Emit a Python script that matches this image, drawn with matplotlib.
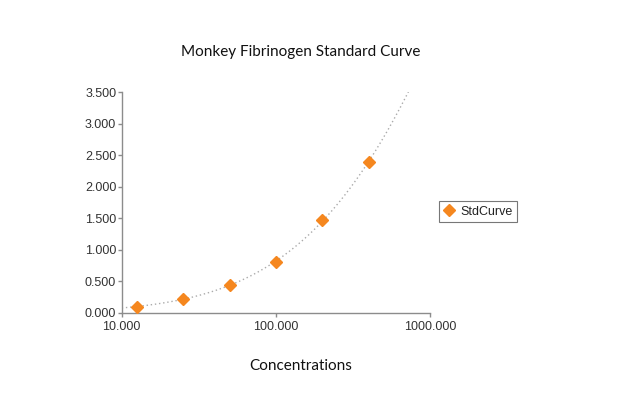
import numpy as np
import matplotlib.pyplot as plt
from matplotlib.ticker import FixedLocator, FuncFormatter, NullLocator

# Standard curve points
conc = [12.5, 25, 50, 100, 200, 400]
od = [0.10, 0.22, 0.44, 0.80, 1.48, 2.40]
y_ticks = [0.0, 0.5, 1.0, 1.5, 2.0, 2.5, 3.0, 3.5]
x_ticks = [10, 100, 1000]

orange = '#F5871F'
axis_gray = '#8C8C8C'
label_col = '#333333'

fig = plt.figure(figsize=(6.18, 4.09), dpi=100)
ax = fig.add_axes([0.197, 0.235, 0.499, 0.539])

# trend line (log-log quadratic fit of the points)
coef = np.polyfit(np.log(conc), np.log(od), 2)
xs = np.logspace(1, 3, 300)
ys = np.exp(np.polyval(coef, np.log(xs)))
ax.plot(xs, ys, color='#ABABAB', lw=1.0, ls=(0, (1, 2)), zorder=2)

ax.plot(conc, od, ls='none', marker='D', ms=6.5, color=orange,
        mec=orange, label='StdCurve', zorder=3)

ax.set_xscale('log')
ax.set_xlim(10, 1000)
ax.set_ylim(0, 3.5)
ax.xaxis.set_major_locator(FixedLocator(x_ticks))
ax.xaxis.set_minor_locator(NullLocator())
ax.xaxis.set_major_formatter(FuncFormatter(lambda v, p: f'{v:.3f}'))
ax.set_yticks(y_ticks)
ax.yaxis.set_major_formatter(FuncFormatter(lambda v, p: f'{v:.3f}'))

for s in ['top', 'right']:
    ax.spines[s].set_visible(False)
for s in ['left', 'bottom']:
    ax.spines[s].set_color(axis_gray)
    ax.spines[s].set_linewidth(1.0)
ax.tick_params(axis='both', direction='out', length=3, width=1.0,
               color=axis_gray, labelsize=9, labelcolor=label_col, pad=1)
ax.tick_params(axis='x', pad=3)
for lab in ax.get_xticklabels() + ax.get_yticklabels():
    lab.set_fontfamily('Liberation Sans')

fig.text(0.486, 0.873, 'Monkey Fibrinogen Standard Curve', ha='center',
         va='center', fontsize=11, family='Lato', color='#111111')
fig.text(0.486, 0.105, 'Concentrations', ha='center', va='center',
         fontsize=11, family='Lato', color='#111111')

leg = fig.legend(loc='center left', bbox_to_anchor=(0.700, 0.482),
                 frameon=True, fancybox=False,
                 prop={'family': 'Liberation Sans', 'size': 9},
                 handlelength=0.9, handletextpad=0.45, borderpad=0.35,
                 edgecolor='#555555')
leg.get_frame().set_linewidth(0.8)
for t in leg.get_texts():
    t.set_color('#222222')

fig.savefig('out.png', dpi=100)
